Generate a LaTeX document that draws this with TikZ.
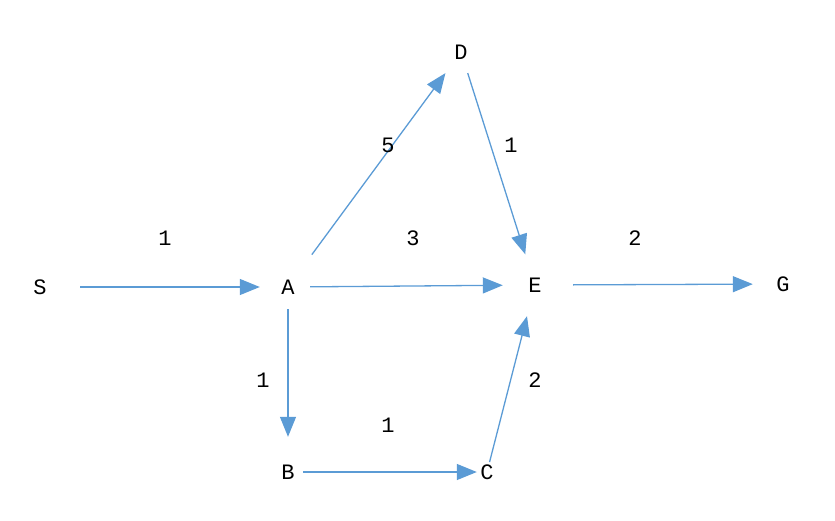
\documentclass[tikz,border=0pt]{standalone}
\usepackage{fontspec}
\setmonofont{Liberation Mono}
\usetikzlibrary{arrows.meta}
\definecolor{edgeblue}{RGB}{91,155,213}
\begin{document}
\begin{tikzpicture}[x=1pt,y=-1pt,
  vert/.style={circle,inner sep=0pt,minimum size=44pt,font=\ttfamily\fontsize{22}{26}\selectfont},
  lbl/.style={font=\ttfamily\fontsize{22}{26}\selectfont},
  edge/.style={draw=edgeblue,line width=1.3pt,-{Triangle[length=20pt,width=16pt,fill=edgeblue]}}]
\useasboundingbox (0,0) rectangle (835,520);
\node[vert] (S) at (40,287) {S};
\node[vert] (A) at (288,287) {A};
\node[vert] (D) at (461,52) {D};
\node[vert] (E) at (535,285) {E};
\node[vert] (G) at (783,284) {G};
\node[vert,minimum size=30pt] (B) at (288,472) {B};
\node[vert,minimum size=20pt] (C) at (487,472) {C};
\draw[edge,shorten >=6pt,shorten <=18pt] (S) -- (A);
\draw[edge,shorten >=4pt,shorten <=18pt] (A) -- (D);
\draw[edge,shorten >=10pt] (A) -- (E);
\draw[edge,shorten >=10pt] (D) -- (E);
\draw[edge,shorten >=8pt,shorten <=16pt] (E) -- (G);
\draw[edge,shorten >=20pt] (A) -- (B);
\draw[edge] (B) -- (C);
\draw[edge,shorten >=10pt] (C) -- (E);
\node[lbl] (l1) at (165,238) {1};
\node[lbl] (l2) at (388,145) {5};
\node[lbl] (l3) at (413,238) {3};
\node[lbl] (l4) at (511,145) {1};
\node[lbl] (l5) at (635,238) {2};
\node[lbl] (l6) at (263,380) {1};
\node[lbl] (l7) at (388,425) {1};
\node[lbl] (l8) at (535,380) {2};
\end{tikzpicture}
\end{document}
